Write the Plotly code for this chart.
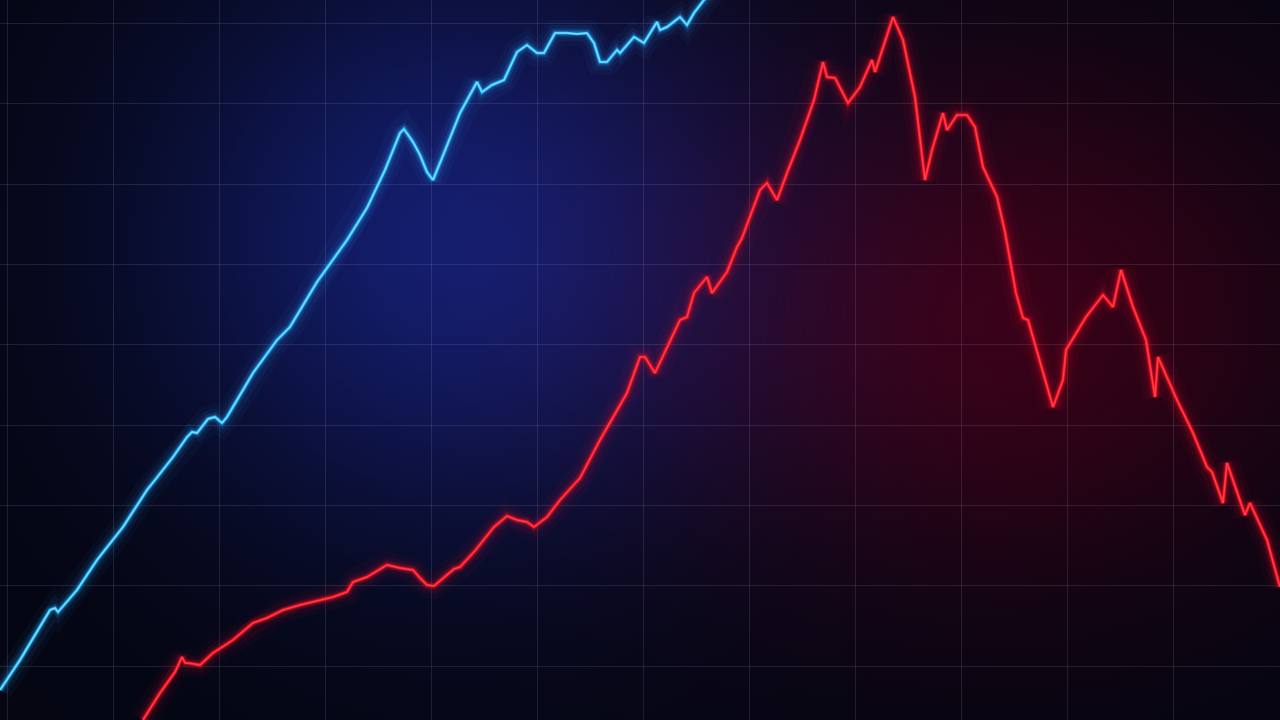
import base64, struct, zlib
import numpy as np
import plotly.graph_objects as go

# ---- data (x: time position, y: value) ----
blue_x = [0, 20, 35, 50, 55, 58, 77, 97, 123, 147, 155, 173, 187, 192, 197, 208, 215, 222, 227,
          253, 277, 290, 317, 333, 347, 367, 385, 400, 404, 413, 420, 427, 433, 444, 460, 477, 482,
          492, 504, 517, 527, 537, 544, 555, 567, 577, 587, 594, 600, 607, 617, 620, 634, 644, 657,
          660, 667, 680, 687, 694, 704, 712]
blue_y_px = [690, 660, 635, 610, 608, 612, 590, 560, 527, 490, 480, 457, 437, 432, 433, 419, 417, 423, 417,
             373, 340, 327, 282, 260, 240, 208, 170, 133, 129, 142, 155, 172, 180, 153, 113, 82, 92,
             85, 80, 52, 45, 53, 53, 33, 33, 34, 33, 43, 62, 62, 50, 53, 37, 43, 22,
             30, 27, 17, 25, 13, 0, -8]
blue_y = [720 - v for v in blue_y_px]

red_x = [143, 160, 175, 182, 185, 188, 200, 213, 233, 253, 267, 283, 300, 333, 347, 353, 367, 387,
         400, 413, 420, 427, 434, 454, 460, 474, 494, 507, 517, 527, 534, 547, 560, 580, 600, 627,
         640, 645, 655, 667, 680, 687, 694, 707, 712, 727, 737, 742, 760, 767, 777, 787, 800, 814,
         823, 827, 835, 848, 860, 872, 875, 893, 903, 915, 925, 932, 943, 947, 957, 967, 975, 983,
         997, 1005, 1016, 1023, 1028, 1053, 1063, 1066, 1086, 1103, 1113, 1121, 1133, 1146, 1155,
         1158, 1177, 1193, 1207, 1212, 1223, 1227, 1245, 1250, 1267, 1280]
red_y_px = [720, 693, 672, 657, 663, 663, 665, 653, 640, 623, 618, 610, 605, 597, 592, 582, 577, 565,
            568, 570, 578, 585, 586, 569, 567, 552, 527, 516, 520, 522, 527, 517, 500, 478, 440, 393,
            357, 357, 373, 347, 320, 317, 293, 277, 293, 272, 247, 238, 190, 183, 200, 173, 140, 100,
            62, 77, 78, 103, 87, 60, 72, 17, 40, 97, 180, 150, 113, 130, 115, 115, 127, 167,
            197, 232, 293, 318, 320, 407, 380, 350, 317, 295, 307, 270, 307, 340, 397,
            357, 400, 433, 467, 472, 503, 463, 515, 503, 540, 587]
red_y = [720 - v for v in red_y_px]

# ---- background glow image ----
W, H = 320, 180
gx = np.linspace(0, 1280, W)[None, :]
gy = np.linspace(0, 720, H)[:, None]
base = np.array([5, 6, 18], float)
blue_g = np.exp(-(((gx - 460) / 300) ** 2 + ((gy - 240) / 290) ** 2))
red_g = np.exp(-(((gx - 1000) / 320) ** 2 + ((gy - 320) / 260) ** 2))
img = (base[None, None, :]
       + blue_g[..., None] * np.array([14, 24, 92], float)[None, None, :]
       + red_g[..., None] * np.array([52, -4, 4], float)[None, None, :])
img = np.clip(img, 0, 255).astype(np.uint8)


def png_uri(arr):
    h, w, _ = arr.shape
    raw = b"".join(b"\x00" + arr[i].tobytes() for i in range(h))

    def chunk(t, d):
        c = struct.pack(">I", len(d)) + t + d
        return c + struct.pack(">I", zlib.crc32(t + d) & 0xFFFFFFFF)

    png = (b"\x89PNG\r\n\x1a\n"
           + chunk(b"IHDR", struct.pack(">IIBBBBB", w, h, 8, 2, 0, 0, 0))
           + chunk(b"IDAT", zlib.compress(raw, 9))
           + chunk(b"IEND", b""))
    return "data:image/png;base64," + base64.b64encode(png).decode()


fig = go.Figure()


def glow(x, y, rgb, core, center):
    r, g, b = rgb
    for w, a in [(26, 0.04), (16, 0.07), (9, 0.15), (5, 0.35)]:
        fig.add_trace(go.Scatter(x=x, y=y, mode="lines",
                                 line=dict(color=f"rgba({r},{g},{b},{a})", width=w),
                                 hoverinfo="skip", showlegend=False))
    fig.add_trace(go.Scatter(x=x, y=y, mode="lines", line=dict(color=core, width=2.6),
                             hoverinfo="skip", showlegend=False))
    fig.add_trace(go.Scatter(x=x, y=y, mode="lines", line=dict(color=center, width=1),
                             hoverinfo="skip", showlegend=False))


glow(blue_x, blue_y, (40, 170, 255), "#35c8ff", "rgba(170,240,255,0.7)")
glow(red_x, red_y, (255, 20, 40), "#ff1a2a", "rgba(255,110,110,0.5)")

fig.add_layout_image(dict(source=png_uri(img), xref="paper", yref="paper", x=0, y=1,
                          sizex=1, sizey=1, sizing="stretch", layer="below", xanchor="left",
                          yanchor="top"))

grid = "rgba(175,175,215,0.15)"
fig.update_xaxes(range=[0, 1280], showgrid=True, gridcolor=grid, gridwidth=1, tick0=7, dtick=106,
                 showticklabels=False, zeroline=False, showline=False, ticks="")
fig.update_yaxes(range=[0, 720], showgrid=True, gridcolor=grid, gridwidth=1, tick0=54, dtick=80.3,
                 showticklabels=False, zeroline=False, showline=False, ticks="")
fig.update_layout(width=1280, height=720, margin=dict(l=0, r=0, t=0, b=0),
                  paper_bgcolor="#050612", plot_bgcolor="rgba(0,0,0,0)", showlegend=False)

fig.write_html("out.html", config={"displayModeBar": False},
               post_script="document.body.style.margin='0';document.body.style.overflow='hidden';")
